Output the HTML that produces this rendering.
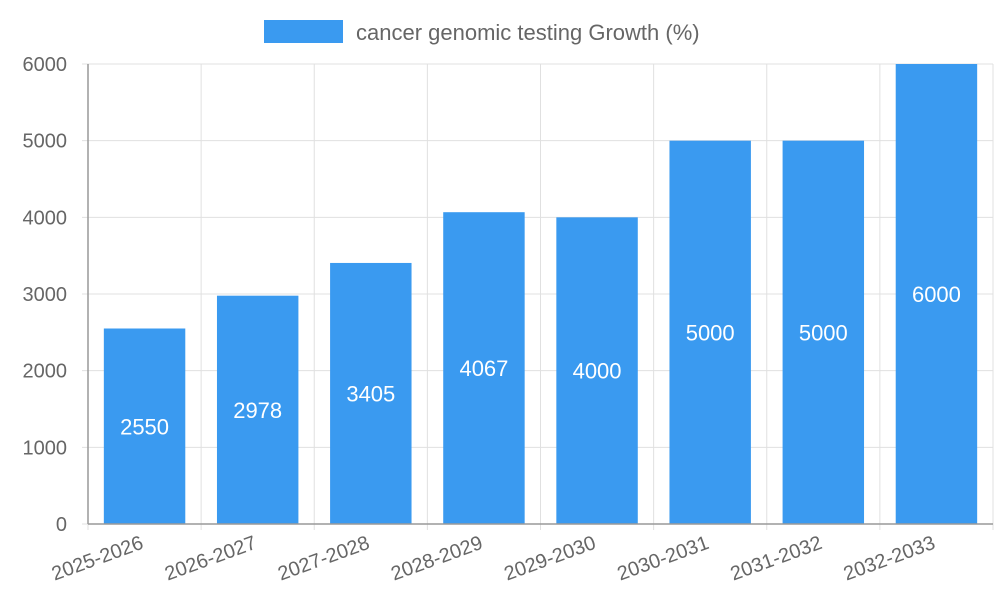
<!DOCTYPE html>
<html><head><meta charset="utf-8"><style>
html,body{margin:0;padding:0;background:#fff;}
svg text{font-family:"Liberation Sans",Arial,sans-serif;}
</style></head><body>
<svg id="chart" width="1000" height="600" xmlns="http://www.w3.org/2000/svg">
<g>
<rect x="264" y="20" width="79" height="23" fill="#3a9af0"/>
<text x="356" y="40" font-size="22" fill="#666">cancer genomic testing Growth (%)</text>
</g>
<g id="grid"></g>
<g id="bars"></g>
<g id="axes"></g>
</svg>
<script>
const categories=["2025-2026","2026-2027","2027-2028","2028-2029","2029-2030","2030-2031","2031-2032","2032-2033"];
const values=[2550,2978,3405,4067,4000,5000,5000,6000];
const yTicks=[0,1000,2000,3000,4000,5000,6000];
const L=88,R=993,T=64,B=524,yMax=6000;
const NS="http://www.w3.org/2000/svg";
const bw=(R-L)/categories.length;
const x=i=>L+bw*i;
const y=v=>B-(v/yMax)*(B-T);
function mk(p,tag,a,txt){const e=document.createElementNS(NS,tag);for(const k in a)e.setAttribute(k,a[k]);if(txt!=null)e.textContent=txt;p.appendChild(e);return e;}
const grid=document.getElementById('grid'),bars=document.getElementById('bars'),axes=document.getElementById('axes');
yTicks.forEach(t=>{
 const l=mk(grid,'line',{x1:L-6,x2:R,y1:y(t),y2:y(t),stroke:'#e0e0e0','stroke-width':1});
 
 
 const tx=mk(axes,'text',{x:L-21,y:y(t)+7,'text-anchor':'end','font-size':20,fill:'#666'},t);
 
 
});
for(let i=0;i<=categories.length;i++){
 const l=mk(grid,'line',{x1:x(i),x2:x(i),y1:T,y2:B+6,stroke:'#e0e0e0','stroke-width':1});
 
 
}
categories.forEach((c,i)=>{
 const v=values[i],w=bw*0.72,cx=x(i)+bw/2;
 const r=mk(bars,'rect',{x:cx-w/2,y:y(v),width:w,height:B-y(v),fill:'#3a9af0'});
 
 
 const vt=mk(bars,'text',{x:cx,y:(y(v)+B)/2+8,'text-anchor':'middle','font-size':22,fill:'#fff'},v);
 
 
 const xt=mk(axes,'text',{x:cx,y:B+24,'text-anchor':'end','font-size':20,fill:'#666',transform:`rotate(-20 ${cx} ${B+24})`},c);
 
 
});
const ax=mk(axes,'line',{x1:L,x2:L,y1:T,y2:B,stroke:'#999','stroke-width':1.5});


const bx=mk(axes,'line',{x1:L,x2:R,y1:B,y2:B,stroke:'#999','stroke-width':1.5});


</script>
</body></html>
